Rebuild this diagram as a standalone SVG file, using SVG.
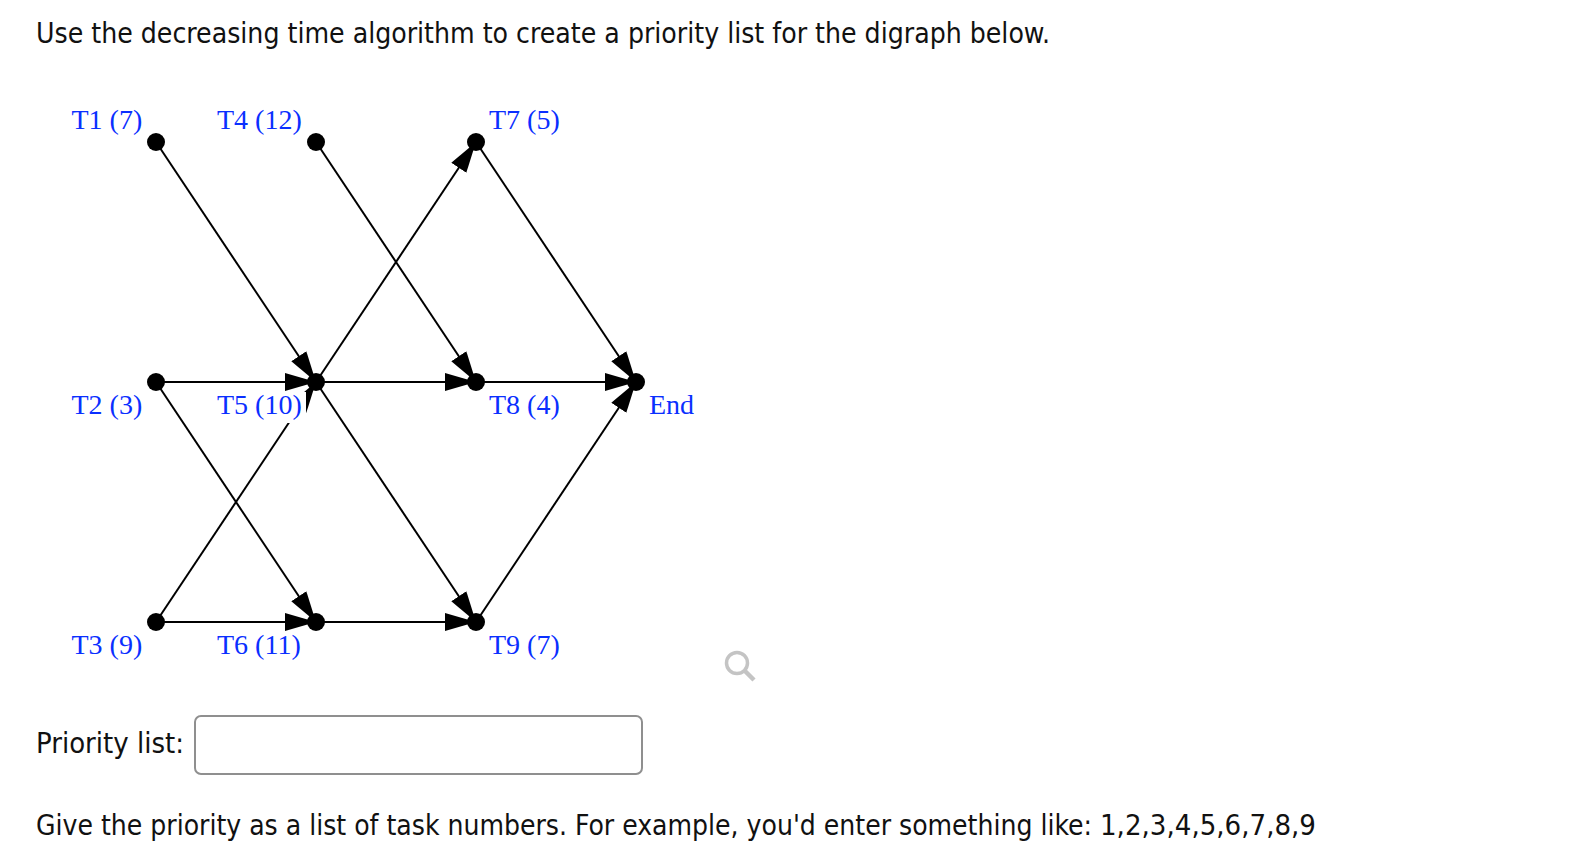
<svg xmlns="http://www.w3.org/2000/svg" width="1584" height="856" viewBox="0 0 1584 856">
<style>
.p{font-family:"DejaVu Sans Condensed","DejaVu Sans",sans-serif;font-size:28px;fill:#111}
.l{font-family:"Liberation Serif",serif;font-size:28px;fill:#0a2fff}
.e{stroke:#000;stroke-width:2;fill:none;marker-end:url(#a)}
.n{fill:#000}
</style>
<defs><marker id="a" markerUnits="userSpaceOnUse" markerWidth="40" markerHeight="24" refX="31" refY="10" orient="auto" viewBox="0 0 40 20"><path d="M0,1 L31,10 L0,19 Z" fill="#000"/></marker></defs>
<rect width="1584" height="856" fill="#fff"/>
<text class="p" x="36" y="43" textLength="1014" lengthAdjust="spacingAndGlyphs">Use the decreasing time algorithm to create a priority list for the digraph below.</text>
<g id="connectors">
<line class="e" x1="156" y1="142" x2="316" y2="382"/>
<line class="e" x1="316" y1="142" x2="476" y2="382"/>
<line class="e" x1="476" y1="142" x2="636" y2="382"/>
<line class="e" x1="156" y1="382" x2="316" y2="382"/>
<line class="e" x1="316" y1="382" x2="476" y2="382"/>
<line class="e" x1="476" y1="382" x2="636" y2="382"/>
<line class="e" x1="156" y1="622" x2="316" y2="622"/>
<line class="e" x1="316" y1="622" x2="476" y2="622"/>
<line class="e" x1="156" y1="382" x2="316" y2="622"/>
<line class="e" x1="316" y1="382" x2="476" y2="622"/>
<line class="e" x1="476" y1="622" x2="636" y2="382"/>
<line class="e" x1="156" y1="622" x2="316" y2="382"/>
<line class="e" x1="316" y1="382" x2="476" y2="142"/>
</g>
<g id="T1"><circle class="n" cx="156" cy="142" r="9"/><text class="l" x="71.5" y="129">T1 (7)</text></g>
<g id="T4"><circle class="n" cx="316" cy="142" r="9"/><text class="l" x="217" y="129">T4 (12)</text></g>
<g id="T7"><circle class="n" cx="476" cy="142" r="9"/><text class="l" x="489" y="129">T7 (5)</text></g>
<g id="T2"><circle class="n" cx="156" cy="382" r="9"/><text class="l" x="71.5" y="414">T2 (3)</text></g>
<g id="T5"><rect x="216" y="392" width="90" height="31" fill="#fff"/><circle class="n" cx="316" cy="382" r="9"/><text class="l" x="217" y="414">T5 (10)</text></g>
<g id="T8"><circle class="n" cx="476" cy="382" r="9"/><text class="l" x="489" y="414">T8 (4)</text></g>
<g id="End"><circle class="n" cx="636" cy="382" r="9"/><text class="l" x="649" y="414">End</text></g>
<g id="T3"><circle class="n" cx="156" cy="622" r="9"/><text class="l" x="71.5" y="654">T3 (9)</text></g>
<g id="T6"><circle class="n" cx="316" cy="622" r="9"/><text class="l" x="217" y="654">T6 (11)</text></g>
<g id="T9"><circle class="n" cx="476" cy="622" r="9"/><text class="l" x="489" y="654">T9 (7)</text></g>
<g id="search" fill="none" stroke="#c4c4c4" stroke-width="3.5"><circle cx="737" cy="663" r="10.5"/><line x1="744.500" y1="670.500" x2="754" y2="680" stroke-width="4.500"/></g>
<text class="p" x="36" y="753" textLength="148" lengthAdjust="spacingAndGlyphs">Priority list:</text>
<rect id="input" x="195" y="716" width="447" height="58" rx="6" fill="#fff" stroke="#8f8f8f" stroke-width="2"/>
<text class="p" y="835"><tspan x="36" textLength="1064" lengthAdjust="spacingAndGlyphs">Give the priority as a list of task numbers. For example, you'd enter something like: </tspan><tspan x="1100" textLength="216" lengthAdjust="spacingAndGlyphs">1,2,3,4,5,6,7,8,9</tspan></text>
</svg>
